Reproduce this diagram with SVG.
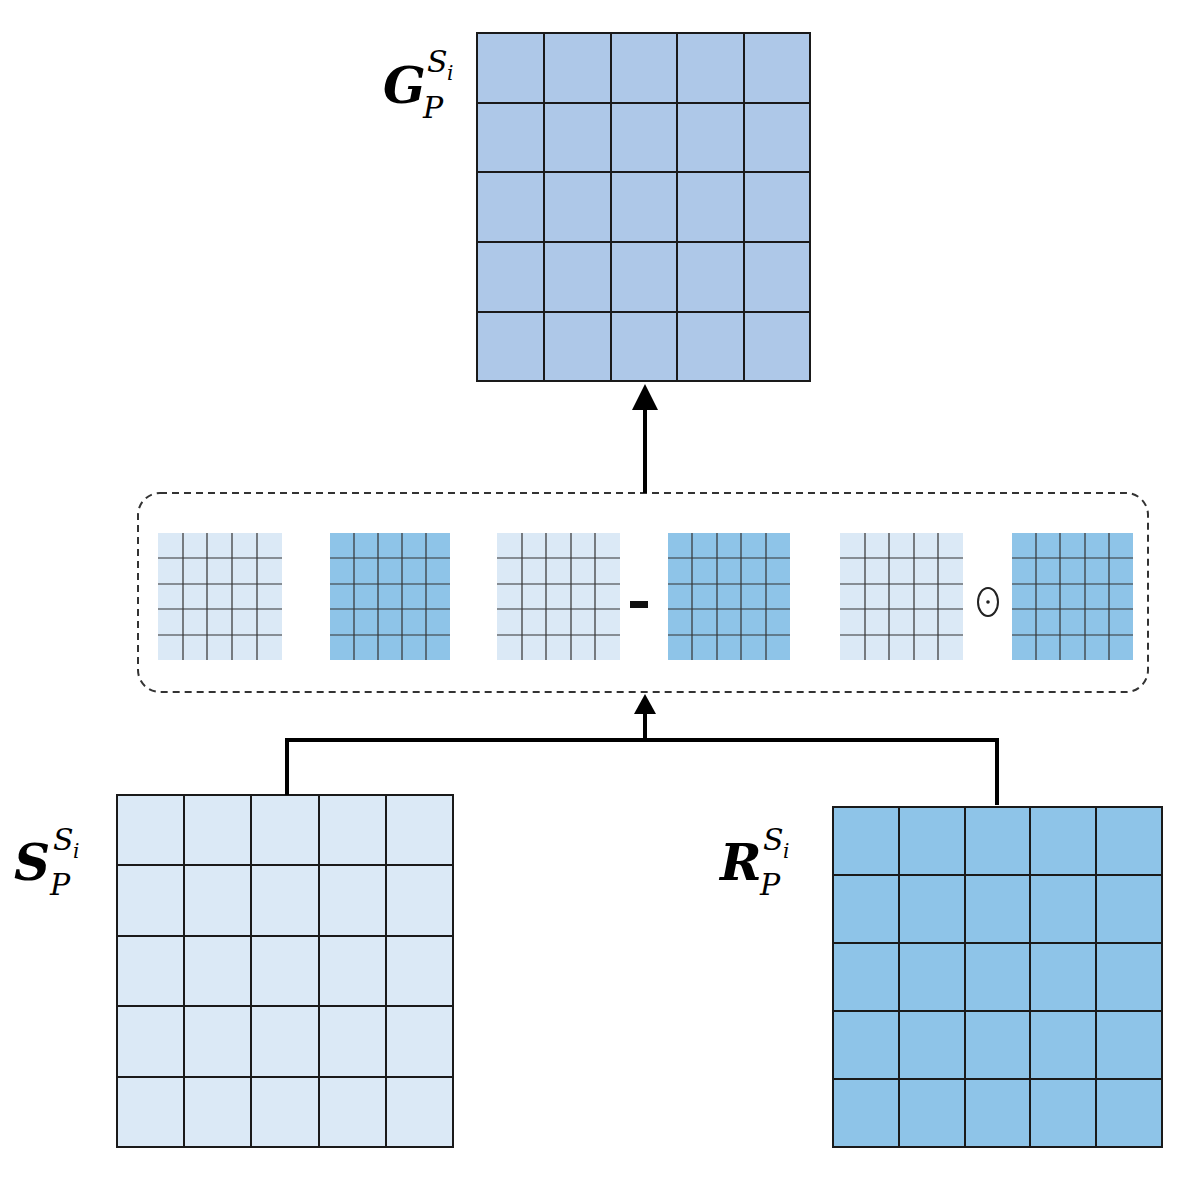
<svg xmlns="http://www.w3.org/2000/svg" width="1193" height="1182" viewBox="0 0 1193 1182">
<defs>
<style>
.g{stroke:#1a1a1a;stroke-width:2}
.s{stroke:#333;stroke-width:1.2}
.top{fill:#aec8e8}.lt{fill:#dbe9f6}.dk{fill:#8ec4e8}
.lbl{font-family:"DejaVu Serif","Liberation Serif",serif;font-weight:bold;font-style:italic;font-size:50px}
.sub{font-family:"DejaVu Serif","Liberation Serif",serif;font-style:italic;font-size:30px}
.ssub{font-family:"DejaVu Serif","Liberation Serif",serif;font-style:italic;font-size:20px}
.c{fill:none;stroke:#000;stroke-width:4}
</style>
<marker id="ah" viewBox="0 0 10 10" refX="9" refY="5" markerWidth="4" markerHeight="4" orient="auto"><path d="M0,0L10,5L0,10z" fill="#000"/></marker>
<pattern id="p5" patternUnits="objectBoundingBox" width="0.2" height="0.2"><rect/></pattern>
</defs>
<rect width="1193" height="1182" fill="#fff"/>
<g id="G">
<rect x="477" y="33" width="333" height="348" class="top g"/>
<path class="g" d="M544,33V381M611,33V381M677,33V381M744,33V381M477,103H810M477,172H810M477,242H810M477,312H810"/>
<text x="383" y="103" class="lbl">G</text><text x="427" y="72" class="sub">S</text><text x="447" y="80" class="ssub">i</text><text x="423" y="118" class="sub">P</text>
</g>
<g id="S">
<rect x="117" y="795" width="336" height="352" class="lt g"/>
<path class="g" d="M184,795V1147M251,795V1147M319,795V1147M386,795V1147M117,865H453M117,936H453M117,1006H453M117,1077H453"/>
<text x="14" y="880" class="lbl">S</text><text x="53" y="850" class="sub">S</text><text x="73" y="858" class="ssub">i</text><text x="50" y="895" class="sub">P</text>
</g>
<g id="R">
<rect x="833" y="807" width="329" height="340" class="dk g"/>
<path class="g" d="M899,807V1147M965,807V1147M1030,807V1147M1096,807V1147M833,875H1162M833,943H1162M833,1011H1162M833,1079H1162"/>
<text x="720" y="880" class="lbl">R</text><text x="763" y="850" class="sub">S</text><text x="783" y="858" class="ssub">i</text><text x="760" y="895" class="sub">P</text>
</g>
<g id="ops">
<rect x="138" y="493" width="1010" height="199" rx="22" fill="none" stroke="#333" stroke-width="2" stroke-dasharray="7,5"/>
<g id="m1"><rect x="158" y="533" width="124" height="127" class="lt"/><path class="s" d="M183,533V660M207,533V660M232,533V660M257,533V660M158,558H282M158,584H282M158,609H282M158,635H282"/></g>
<g id="m2"><rect x="330" y="533" width="120" height="127" class="dk"/><path class="s" d="M354,533V660M378,533V660M402,533V660M426,533V660M330,558H450M330,584H450M330,609H450M330,635H450"/></g>
<g id="m3"><rect x="497" y="533" width="123" height="127" class="lt"/><path class="s" d="M522,533V660M546,533V660M571,533V660M595,533V660M497,558H620M497,584H620M497,609H620M497,635H620"/></g>
<rect x="630" y="601" width="18" height="7" fill="#111"/>
<g id="m4"><rect x="668" y="533" width="122" height="127" class="dk"/><path class="s" d="M692,533V660M717,533V660M741,533V660M766,533V660M668,558H790M668,584H790M668,609H790M668,635H790"/></g>
<g id="m5"><rect x="840" y="533" width="123" height="127" class="lt"/><path class="s" d="M865,533V660M889,533V660M914,533V660M938,533V660M840,558H963M840,584H963M840,609H963M840,635H963"/></g>
<ellipse cx="988" cy="602" rx="10" ry="14" fill="none" stroke="#222" stroke-width="2"/><circle cx="988" cy="602" r="1.8" fill="#222"/>
<g id="m6"><rect x="1012" y="533" width="121" height="127" class="dk"/><path class="s" d="M1036,533V660M1060,533V660M1085,533V660M1109,533V660M1012,558H1133M1012,584H1133M1012,609H1133M1012,635H1133"/></g>
</g>
<g id="connectors">
<path class="c" d="M645,493V396"/><path d="M632,410L645,384L658,410z" fill="#000"/>
<path class="c" d="M287,795V740H997V805M645,740V712"/><path d="M634,714L645,694L656,714z" fill="#000"/>
</g>
</svg>
